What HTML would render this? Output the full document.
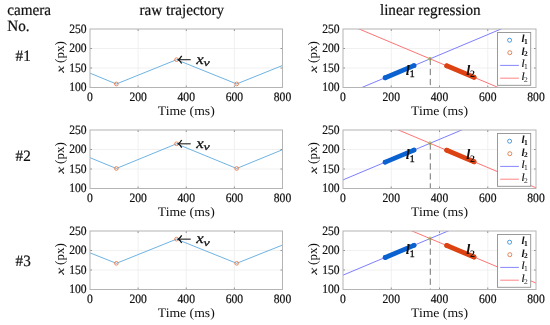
<!DOCTYPE html>
<html><head><meta charset="utf-8"><title>figure</title>
<style>
html,body{margin:0;padding:0;background:#fff;}
body{width:550px;height:325px;overflow:hidden;}
svg{display:block;}
text{font-family:'Liberation Serif', 'DejaVu Serif', serif;fill:#111;text-rendering:geometricPrecision;}
.tk{font-size:11.6px;stroke:#111;stroke-width:0.2px;}
.xl{font-size:13px;}
.big{font-size:15.2px;stroke:#111;stroke-width:0.2px;}
.yx{font-size:11.3px;font-style:italic;stroke:#111;stroke-width:0.1px;}
.mi{font-size:14.5px;font-style:italic;stroke:#111;stroke-width:0.3px;}
.ms{font-size:10.5px;font-style:italic;stroke:#111;stroke-width:0.25px;}
.lb{font-size:14.5px;font-style:italic;font-weight:bold;}
.sub{font-size:9.8px;stroke:#111;stroke-width:0.4px;}
.subb{font-size:9.8px;font-weight:bold;}
.lbs{font-size:11px;font-style:italic;font-weight:bold;}
.lis{font-size:11px;font-style:italic;stroke:#111;stroke-width:0.2px;}
.subs{font-size:7.5px;}
.subsb{font-size:7.5px;font-weight:bold;}
</style></head>
<body>
<svg width="550" height="325" viewBox="0 0 550 325">
<rect width="550" height="325" fill="#fff"/>
<line x1="138.12" y1="29.00" x2="138.12" y2="87.50" stroke="#ececec" stroke-width="0.8"/>
<line x1="186.25" y1="29.00" x2="186.25" y2="87.50" stroke="#ececec" stroke-width="0.8"/>
<line x1="234.38" y1="29.00" x2="234.38" y2="87.50" stroke="#ececec" stroke-width="0.8"/>
<line x1="90.00" y1="68.00" x2="282.50" y2="68.00" stroke="#ececec" stroke-width="0.8"/>
<line x1="90.00" y1="48.50" x2="282.50" y2="48.50" stroke="#ececec" stroke-width="0.8"/>
<polyline points="90.00,73.15 116.35,83.99 176.50,59.69 236.66,83.95 282.50,65.47" fill="none" stroke="#5eaae0" stroke-width="0.9"/>
<circle cx="116.35" cy="83.99" r="1.85" fill="none" stroke="#ee7a45" stroke-width="0.9"/>
<circle cx="176.50" cy="59.69" r="1.85" fill="none" stroke="#ee7a45" stroke-width="0.9"/>
<circle cx="236.66" cy="83.95" r="1.85" fill="none" stroke="#ee7a45" stroke-width="0.9"/>
<line x1="138.12" y1="87.50" x2="138.12" y2="85.50" stroke="#555" stroke-width="0.6"/>
<line x1="138.12" y1="29.00" x2="138.12" y2="31.00" stroke="#555" stroke-width="0.6"/>
<line x1="186.25" y1="87.50" x2="186.25" y2="85.50" stroke="#555" stroke-width="0.6"/>
<line x1="186.25" y1="29.00" x2="186.25" y2="31.00" stroke="#555" stroke-width="0.6"/>
<line x1="234.38" y1="87.50" x2="234.38" y2="85.50" stroke="#555" stroke-width="0.6"/>
<line x1="234.38" y1="29.00" x2="234.38" y2="31.00" stroke="#555" stroke-width="0.6"/>
<line x1="90.00" y1="68.00" x2="92.00" y2="68.00" stroke="#555" stroke-width="0.6"/>
<line x1="282.50" y1="68.00" x2="280.50" y2="68.00" stroke="#555" stroke-width="0.6"/>
<line x1="90.00" y1="48.50" x2="92.00" y2="48.50" stroke="#555" stroke-width="0.6"/>
<line x1="282.50" y1="48.50" x2="280.50" y2="48.50" stroke="#555" stroke-width="0.6"/>
<rect x="90.00" y="29.00" width="192.50" height="58.50" fill="none" stroke="#b4b4b4" stroke-width="1"/>
<text transform="translate(86.60,91.25) scale(1,1.1)" text-anchor="end" class="tk">100</text>
<text transform="translate(86.60,71.75) scale(1,1.1)" text-anchor="end" class="tk">150</text>
<text transform="translate(86.60,52.25) scale(1,1.1)" text-anchor="end" class="tk">200</text>
<text transform="translate(86.60,32.75) scale(1,1.1)" text-anchor="end" class="tk">250</text>
<text transform="translate(90.00,101.00) scale(1,1.1)" text-anchor="middle" class="tk">0</text>
<text transform="translate(138.12,101.00) scale(1,1.1)" text-anchor="middle" class="tk">200</text>
<text transform="translate(186.25,101.00) scale(1,1.1)" text-anchor="middle" class="tk">400</text>
<text transform="translate(234.38,101.00) scale(1,1.1)" text-anchor="middle" class="tk">600</text>
<text transform="translate(282.50,101.00) scale(1,1.1)" text-anchor="middle" class="tk">800</text>
<text x="186.25" y="115.10" text-anchor="middle" class="xl" textLength="57" lengthAdjust="spacingAndGlyphs">Time (ms)</text>
<text transform="translate(63.90,52.10) rotate(-90)" text-anchor="middle" class="xl">(px)</text>
<text transform="translate(63.90,69.40) rotate(-90) scale(1.38,1)" text-anchor="middle" class="yx">x</text>
<line x1="178.80" y1="59.69" x2="190.7" y2="59.69" stroke="#222" stroke-width="1.1"/>
<path d="M181.70,55.89 Q180.00,58.79 178.30,59.69 Q180.00,60.59 181.70,63.49" fill="none" stroke="#111" stroke-width="1.25"/>
<text transform="translate(196.2,63.59) scale(1.15,1)" class="mi">x</text>
<text transform="translate(203.6,66.09) scale(1.35,1)" class="ms">v</text>
<line x1="391.25" y1="29.00" x2="391.25" y2="87.50" stroke="#ececec" stroke-width="0.8"/>
<line x1="439.50" y1="29.00" x2="439.50" y2="87.50" stroke="#ececec" stroke-width="0.8"/>
<line x1="487.75" y1="29.00" x2="487.75" y2="87.50" stroke="#ececec" stroke-width="0.8"/>
<line x1="343.00" y1="68.00" x2="536.00" y2="68.00" stroke="#ececec" stroke-width="0.8"/>
<line x1="343.00" y1="48.50" x2="536.00" y2="48.50" stroke="#ececec" stroke-width="0.8"/>
<clipPath id="c0"><rect x="343.00" y="29.00" width="193.00" height="58.50"/></clipPath>
<g clip-path="url(#c0)">
<line x1="318.88" y1="105.58" x2="560.12" y2="4.18" stroke="#6e6eff" stroke-width="0.9"/>
<line x1="318.88" y1="12.09" x2="560.12" y2="113.49" stroke="#ff6464" stroke-width="0.9"/>
</g>
<line x1="430.29" y1="58.84" x2="430.29" y2="87.50" stroke="#505050" stroke-width="0.8" stroke-dasharray="6.3,3.7"/>
<circle cx="430.09" cy="58.84" r="1.5" fill="none" stroke="#9cc048" stroke-width="0.9"/>
<line x1="385.22" y1="77.70" x2="413.93" y2="65.63" stroke="#0a62d0" stroke-width="4.8" stroke-linecap="round"/>
<circle cx="385.22" cy="77.70" r="2.45" fill="#0a62d0"/>
<circle cx="413.93" cy="65.63" r="2.45" fill="#0a62d0"/>
<line x1="446.74" y1="65.83" x2="474.00" y2="77.29" stroke="#dd4312" stroke-width="4.8" stroke-linecap="round"/>
<circle cx="446.74" cy="65.83" r="2.45" fill="#dd4312"/>
<circle cx="474.00" cy="77.29" r="2.45" fill="#dd4312"/>
<text x="405.8" y="74.73" class="lb">l</text><text x="409.8" y="77.14" class="sub">1</text>
<text x="466.3" y="74.73" class="lb">l</text><text x="470.0" y="77.14" class="subb">2</text>
<line x1="391.25" y1="87.50" x2="391.25" y2="85.50" stroke="#555" stroke-width="0.6"/>
<line x1="391.25" y1="29.00" x2="391.25" y2="31.00" stroke="#555" stroke-width="0.6"/>
<line x1="439.50" y1="87.50" x2="439.50" y2="85.50" stroke="#555" stroke-width="0.6"/>
<line x1="439.50" y1="29.00" x2="439.50" y2="31.00" stroke="#555" stroke-width="0.6"/>
<line x1="487.75" y1="87.50" x2="487.75" y2="85.50" stroke="#555" stroke-width="0.6"/>
<line x1="487.75" y1="29.00" x2="487.75" y2="31.00" stroke="#555" stroke-width="0.6"/>
<line x1="343.00" y1="68.00" x2="345.00" y2="68.00" stroke="#555" stroke-width="0.6"/>
<line x1="536.00" y1="68.00" x2="534.00" y2="68.00" stroke="#555" stroke-width="0.6"/>
<line x1="343.00" y1="48.50" x2="345.00" y2="48.50" stroke="#555" stroke-width="0.6"/>
<line x1="536.00" y1="48.50" x2="534.00" y2="48.50" stroke="#555" stroke-width="0.6"/>
<rect x="343.00" y="29.00" width="193.00" height="58.50" fill="none" stroke="#b4b4b4" stroke-width="1"/>
<text transform="translate(339.60,91.25) scale(1,1.1)" text-anchor="end" class="tk">100</text>
<text transform="translate(339.60,71.75) scale(1,1.1)" text-anchor="end" class="tk">150</text>
<text transform="translate(339.60,52.25) scale(1,1.1)" text-anchor="end" class="tk">200</text>
<text transform="translate(339.60,32.75) scale(1,1.1)" text-anchor="end" class="tk">250</text>
<text transform="translate(343.00,101.00) scale(1,1.1)" text-anchor="middle" class="tk">0</text>
<text transform="translate(391.25,101.00) scale(1,1.1)" text-anchor="middle" class="tk">200</text>
<text transform="translate(439.50,101.00) scale(1,1.1)" text-anchor="middle" class="tk">400</text>
<text transform="translate(487.75,101.00) scale(1,1.1)" text-anchor="middle" class="tk">600</text>
<text transform="translate(536.00,101.00) scale(1,1.1)" text-anchor="middle" class="tk">800</text>
<text x="439.50" y="115.10" text-anchor="middle" class="xl" textLength="57" lengthAdjust="spacingAndGlyphs">Time (ms)</text>
<text transform="translate(316.90,52.10) rotate(-90)" text-anchor="middle" class="xl">(px)</text>
<text transform="translate(316.90,69.40) rotate(-90) scale(1.38,1)" text-anchor="middle" class="yx">x</text>
<rect x="497.55" y="32.50" width="33.15" height="52.80" fill="#fff" stroke="#909090" stroke-width="0.9"/>
<circle cx="509.6" cy="40.20" r="2.0" fill="none" stroke="#3b8fd6" stroke-width="0.9"/>
<circle cx="509.8" cy="52.70" r="2.0" fill="none" stroke="#e0784a" stroke-width="0.9"/>
<line x1="500.2" y1="65.40" x2="518.9" y2="65.40" stroke="#7878ff" stroke-width="0.9"/>
<line x1="500.2" y1="78.20" x2="518.9" y2="78.20" stroke="#ff7878" stroke-width="0.9"/>
<text x="521.4" y="42.20" class="lbs">l</text><text x="523.9" y="43.90" class="subsb">1</text>
<text x="521.4" y="54.70" class="lbs">l</text><text x="523.9" y="56.40" class="subsb">2</text>
<text x="521.4" y="67.40" class="lis">l</text><text x="523.9" y="69.10" class="subs">1</text>
<text x="521.4" y="80.20" class="lis">l</text><text x="523.9" y="81.90" class="subs">2</text>
<line x1="138.12" y1="130.00" x2="138.12" y2="188.50" stroke="#ececec" stroke-width="0.8"/>
<line x1="186.25" y1="130.00" x2="186.25" y2="188.50" stroke="#ececec" stroke-width="0.8"/>
<line x1="234.38" y1="130.00" x2="234.38" y2="188.50" stroke="#ececec" stroke-width="0.8"/>
<line x1="90.00" y1="169.00" x2="282.50" y2="169.00" stroke="#ececec" stroke-width="0.8"/>
<line x1="90.00" y1="149.50" x2="282.50" y2="149.50" stroke="#ececec" stroke-width="0.8"/>
<polyline points="90.00,157.69 116.35,168.49 176.50,143.81 236.66,168.49 282.50,149.69" fill="none" stroke="#5eaae0" stroke-width="0.9"/>
<circle cx="116.35" cy="168.49" r="1.85" fill="none" stroke="#ee7a45" stroke-width="0.9"/>
<circle cx="176.50" cy="143.81" r="1.85" fill="none" stroke="#ee7a45" stroke-width="0.9"/>
<circle cx="236.66" cy="168.49" r="1.85" fill="none" stroke="#ee7a45" stroke-width="0.9"/>
<line x1="138.12" y1="188.50" x2="138.12" y2="186.50" stroke="#555" stroke-width="0.6"/>
<line x1="138.12" y1="130.00" x2="138.12" y2="132.00" stroke="#555" stroke-width="0.6"/>
<line x1="186.25" y1="188.50" x2="186.25" y2="186.50" stroke="#555" stroke-width="0.6"/>
<line x1="186.25" y1="130.00" x2="186.25" y2="132.00" stroke="#555" stroke-width="0.6"/>
<line x1="234.38" y1="188.50" x2="234.38" y2="186.50" stroke="#555" stroke-width="0.6"/>
<line x1="234.38" y1="130.00" x2="234.38" y2="132.00" stroke="#555" stroke-width="0.6"/>
<line x1="90.00" y1="169.00" x2="92.00" y2="169.00" stroke="#555" stroke-width="0.6"/>
<line x1="282.50" y1="169.00" x2="280.50" y2="169.00" stroke="#555" stroke-width="0.6"/>
<line x1="90.00" y1="149.50" x2="92.00" y2="149.50" stroke="#555" stroke-width="0.6"/>
<line x1="282.50" y1="149.50" x2="280.50" y2="149.50" stroke="#555" stroke-width="0.6"/>
<rect x="90.00" y="130.00" width="192.50" height="58.50" fill="none" stroke="#b4b4b4" stroke-width="1"/>
<text transform="translate(86.60,192.25) scale(1,1.1)" text-anchor="end" class="tk">100</text>
<text transform="translate(86.60,172.75) scale(1,1.1)" text-anchor="end" class="tk">150</text>
<text transform="translate(86.60,153.25) scale(1,1.1)" text-anchor="end" class="tk">200</text>
<text transform="translate(86.60,133.75) scale(1,1.1)" text-anchor="end" class="tk">250</text>
<text transform="translate(90.00,202.00) scale(1,1.1)" text-anchor="middle" class="tk">0</text>
<text transform="translate(138.12,202.00) scale(1,1.1)" text-anchor="middle" class="tk">200</text>
<text transform="translate(186.25,202.00) scale(1,1.1)" text-anchor="middle" class="tk">400</text>
<text transform="translate(234.38,202.00) scale(1,1.1)" text-anchor="middle" class="tk">600</text>
<text transform="translate(282.50,202.00) scale(1,1.1)" text-anchor="middle" class="tk">800</text>
<text x="186.25" y="216.10" text-anchor="middle" class="xl" textLength="57" lengthAdjust="spacingAndGlyphs">Time (ms)</text>
<text transform="translate(63.90,153.10) rotate(-90)" text-anchor="middle" class="xl">(px)</text>
<text transform="translate(63.90,170.40) rotate(-90) scale(1.38,1)" text-anchor="middle" class="yx">x</text>
<line x1="178.80" y1="143.81" x2="190.7" y2="143.81" stroke="#222" stroke-width="1.1"/>
<path d="M181.70,140.01 Q180.00,142.91 178.30,143.81 Q180.00,144.71 181.70,147.61" fill="none" stroke="#111" stroke-width="1.25"/>
<text transform="translate(196.2,147.71) scale(1.15,1)" class="mi">x</text>
<text transform="translate(203.6,150.21) scale(1.35,1)" class="ms">v</text>
<line x1="391.25" y1="130.00" x2="391.25" y2="188.50" stroke="#ececec" stroke-width="0.8"/>
<line x1="439.50" y1="130.00" x2="439.50" y2="188.50" stroke="#ececec" stroke-width="0.8"/>
<line x1="487.75" y1="130.00" x2="487.75" y2="188.50" stroke="#ececec" stroke-width="0.8"/>
<line x1="343.00" y1="169.00" x2="536.00" y2="169.00" stroke="#ececec" stroke-width="0.8"/>
<line x1="343.00" y1="149.50" x2="536.00" y2="149.50" stroke="#ececec" stroke-width="0.8"/>
<clipPath id="c1"><rect x="343.00" y="130.00" width="193.00" height="58.50"/></clipPath>
<g clip-path="url(#c1)">
<line x1="318.88" y1="190.04" x2="560.12" y2="88.64" stroke="#6e6eff" stroke-width="0.9"/>
<line x1="318.88" y1="96.55" x2="560.12" y2="197.95" stroke="#ff6464" stroke-width="0.9"/>
</g>
<line x1="430.29" y1="143.30" x2="430.29" y2="188.50" stroke="#505050" stroke-width="0.8" stroke-dasharray="6.3,3.7"/>
<circle cx="430.09" cy="143.30" r="1.5" fill="none" stroke="#9cc048" stroke-width="0.9"/>
<line x1="385.22" y1="162.16" x2="413.93" y2="150.09" stroke="#0a62d0" stroke-width="4.8" stroke-linecap="round"/>
<circle cx="385.22" cy="162.16" r="2.45" fill="#0a62d0"/>
<circle cx="413.93" cy="150.09" r="2.45" fill="#0a62d0"/>
<line x1="446.74" y1="150.30" x2="474.00" y2="161.75" stroke="#dd4312" stroke-width="4.8" stroke-linecap="round"/>
<circle cx="446.74" cy="150.30" r="2.45" fill="#dd4312"/>
<circle cx="474.00" cy="161.75" r="2.45" fill="#dd4312"/>
<text x="405.8" y="159.20" class="lb">l</text><text x="409.8" y="161.60" class="sub">1</text>
<text x="466.3" y="159.20" class="lb">l</text><text x="470.0" y="161.60" class="subb">2</text>
<line x1="391.25" y1="188.50" x2="391.25" y2="186.50" stroke="#555" stroke-width="0.6"/>
<line x1="391.25" y1="130.00" x2="391.25" y2="132.00" stroke="#555" stroke-width="0.6"/>
<line x1="439.50" y1="188.50" x2="439.50" y2="186.50" stroke="#555" stroke-width="0.6"/>
<line x1="439.50" y1="130.00" x2="439.50" y2="132.00" stroke="#555" stroke-width="0.6"/>
<line x1="487.75" y1="188.50" x2="487.75" y2="186.50" stroke="#555" stroke-width="0.6"/>
<line x1="487.75" y1="130.00" x2="487.75" y2="132.00" stroke="#555" stroke-width="0.6"/>
<line x1="343.00" y1="169.00" x2="345.00" y2="169.00" stroke="#555" stroke-width="0.6"/>
<line x1="536.00" y1="169.00" x2="534.00" y2="169.00" stroke="#555" stroke-width="0.6"/>
<line x1="343.00" y1="149.50" x2="345.00" y2="149.50" stroke="#555" stroke-width="0.6"/>
<line x1="536.00" y1="149.50" x2="534.00" y2="149.50" stroke="#555" stroke-width="0.6"/>
<rect x="343.00" y="130.00" width="193.00" height="58.50" fill="none" stroke="#b4b4b4" stroke-width="1"/>
<text transform="translate(339.60,192.25) scale(1,1.1)" text-anchor="end" class="tk">100</text>
<text transform="translate(339.60,172.75) scale(1,1.1)" text-anchor="end" class="tk">150</text>
<text transform="translate(339.60,153.25) scale(1,1.1)" text-anchor="end" class="tk">200</text>
<text transform="translate(339.60,133.75) scale(1,1.1)" text-anchor="end" class="tk">250</text>
<text transform="translate(343.00,202.00) scale(1,1.1)" text-anchor="middle" class="tk">0</text>
<text transform="translate(391.25,202.00) scale(1,1.1)" text-anchor="middle" class="tk">200</text>
<text transform="translate(439.50,202.00) scale(1,1.1)" text-anchor="middle" class="tk">400</text>
<text transform="translate(487.75,202.00) scale(1,1.1)" text-anchor="middle" class="tk">600</text>
<text transform="translate(536.00,202.00) scale(1,1.1)" text-anchor="middle" class="tk">800</text>
<text x="439.50" y="216.10" text-anchor="middle" class="xl" textLength="57" lengthAdjust="spacingAndGlyphs">Time (ms)</text>
<text transform="translate(316.90,153.10) rotate(-90)" text-anchor="middle" class="xl">(px)</text>
<text transform="translate(316.90,170.40) rotate(-90) scale(1.38,1)" text-anchor="middle" class="yx">x</text>
<rect x="497.55" y="133.50" width="33.15" height="52.80" fill="#fff" stroke="#909090" stroke-width="0.9"/>
<circle cx="509.6" cy="141.20" r="2.0" fill="none" stroke="#3b8fd6" stroke-width="0.9"/>
<circle cx="509.8" cy="153.70" r="2.0" fill="none" stroke="#e0784a" stroke-width="0.9"/>
<line x1="500.2" y1="166.40" x2="518.9" y2="166.40" stroke="#7878ff" stroke-width="0.9"/>
<line x1="500.2" y1="179.20" x2="518.9" y2="179.20" stroke="#ff7878" stroke-width="0.9"/>
<text x="521.4" y="143.20" class="lbs">l</text><text x="523.9" y="144.90" class="subsb">1</text>
<text x="521.4" y="155.70" class="lbs">l</text><text x="523.9" y="157.40" class="subsb">2</text>
<text x="521.4" y="168.40" class="lis">l</text><text x="523.9" y="170.10" class="subs">1</text>
<text x="521.4" y="181.20" class="lis">l</text><text x="523.9" y="182.90" class="subs">2</text>
<line x1="138.12" y1="231.00" x2="138.12" y2="289.50" stroke="#ececec" stroke-width="0.8"/>
<line x1="186.25" y1="231.00" x2="186.25" y2="289.50" stroke="#ececec" stroke-width="0.8"/>
<line x1="234.38" y1="231.00" x2="234.38" y2="289.50" stroke="#ececec" stroke-width="0.8"/>
<line x1="90.00" y1="270.00" x2="282.50" y2="270.00" stroke="#ececec" stroke-width="0.8"/>
<line x1="90.00" y1="250.50" x2="282.50" y2="250.50" stroke="#ececec" stroke-width="0.8"/>
<polyline points="90.00,252.88 116.35,263.33 176.50,239.15 236.66,263.33 282.50,245.04" fill="none" stroke="#5eaae0" stroke-width="0.9"/>
<circle cx="116.35" cy="263.33" r="1.85" fill="none" stroke="#ee7a45" stroke-width="0.9"/>
<circle cx="176.50" cy="239.15" r="1.85" fill="none" stroke="#ee7a45" stroke-width="0.9"/>
<circle cx="236.66" cy="263.33" r="1.85" fill="none" stroke="#ee7a45" stroke-width="0.9"/>
<line x1="138.12" y1="289.50" x2="138.12" y2="287.50" stroke="#555" stroke-width="0.6"/>
<line x1="138.12" y1="231.00" x2="138.12" y2="233.00" stroke="#555" stroke-width="0.6"/>
<line x1="186.25" y1="289.50" x2="186.25" y2="287.50" stroke="#555" stroke-width="0.6"/>
<line x1="186.25" y1="231.00" x2="186.25" y2="233.00" stroke="#555" stroke-width="0.6"/>
<line x1="234.38" y1="289.50" x2="234.38" y2="287.50" stroke="#555" stroke-width="0.6"/>
<line x1="234.38" y1="231.00" x2="234.38" y2="233.00" stroke="#555" stroke-width="0.6"/>
<line x1="90.00" y1="270.00" x2="92.00" y2="270.00" stroke="#555" stroke-width="0.6"/>
<line x1="282.50" y1="270.00" x2="280.50" y2="270.00" stroke="#555" stroke-width="0.6"/>
<line x1="90.00" y1="250.50" x2="92.00" y2="250.50" stroke="#555" stroke-width="0.6"/>
<line x1="282.50" y1="250.50" x2="280.50" y2="250.50" stroke="#555" stroke-width="0.6"/>
<rect x="90.00" y="231.00" width="192.50" height="58.50" fill="none" stroke="#b4b4b4" stroke-width="1"/>
<text transform="translate(86.60,293.25) scale(1,1.1)" text-anchor="end" class="tk">100</text>
<text transform="translate(86.60,273.75) scale(1,1.1)" text-anchor="end" class="tk">150</text>
<text transform="translate(86.60,254.25) scale(1,1.1)" text-anchor="end" class="tk">200</text>
<text transform="translate(86.60,234.75) scale(1,1.1)" text-anchor="end" class="tk">250</text>
<text transform="translate(90.00,303.00) scale(1,1.1)" text-anchor="middle" class="tk">0</text>
<text transform="translate(138.12,303.00) scale(1,1.1)" text-anchor="middle" class="tk">200</text>
<text transform="translate(186.25,303.00) scale(1,1.1)" text-anchor="middle" class="tk">400</text>
<text transform="translate(234.38,303.00) scale(1,1.1)" text-anchor="middle" class="tk">600</text>
<text transform="translate(282.50,303.00) scale(1,1.1)" text-anchor="middle" class="tk">800</text>
<text x="186.25" y="317.10" text-anchor="middle" class="xl" textLength="57" lengthAdjust="spacingAndGlyphs">Time (ms)</text>
<text transform="translate(63.90,254.10) rotate(-90)" text-anchor="middle" class="xl">(px)</text>
<text transform="translate(63.90,271.40) rotate(-90) scale(1.38,1)" text-anchor="middle" class="yx">x</text>
<line x1="178.80" y1="239.15" x2="190.7" y2="239.15" stroke="#222" stroke-width="1.1"/>
<path d="M181.70,235.35 Q180.00,238.25 178.30,239.15 Q180.00,240.05 181.70,242.95" fill="none" stroke="#111" stroke-width="1.25"/>
<text transform="translate(196.2,243.05) scale(1.15,1)" class="mi">x</text>
<text transform="translate(203.6,245.55) scale(1.35,1)" class="ms">v</text>
<line x1="391.25" y1="231.00" x2="391.25" y2="289.50" stroke="#ececec" stroke-width="0.8"/>
<line x1="439.50" y1="231.00" x2="439.50" y2="289.50" stroke="#ececec" stroke-width="0.8"/>
<line x1="487.75" y1="231.00" x2="487.75" y2="289.50" stroke="#ececec" stroke-width="0.8"/>
<line x1="343.00" y1="270.00" x2="536.00" y2="270.00" stroke="#ececec" stroke-width="0.8"/>
<line x1="343.00" y1="250.50" x2="536.00" y2="250.50" stroke="#ececec" stroke-width="0.8"/>
<clipPath id="c2"><rect x="343.00" y="231.00" width="193.00" height="58.50"/></clipPath>
<g clip-path="url(#c2)">
<line x1="318.88" y1="285.31" x2="560.12" y2="183.91" stroke="#6e6eff" stroke-width="0.9"/>
<line x1="318.88" y1="191.82" x2="560.12" y2="293.22" stroke="#ff6464" stroke-width="0.9"/>
</g>
<line x1="430.29" y1="238.57" x2="430.29" y2="289.50" stroke="#505050" stroke-width="0.8" stroke-dasharray="6.3,3.7"/>
<circle cx="430.09" cy="238.57" r="1.5" fill="none" stroke="#9cc048" stroke-width="0.9"/>
<line x1="385.22" y1="257.43" x2="413.93" y2="245.36" stroke="#0a62d0" stroke-width="4.8" stroke-linecap="round"/>
<circle cx="385.22" cy="257.43" r="2.45" fill="#0a62d0"/>
<circle cx="413.93" cy="245.36" r="2.45" fill="#0a62d0"/>
<line x1="446.74" y1="245.56" x2="474.00" y2="257.02" stroke="#dd4312" stroke-width="4.8" stroke-linecap="round"/>
<circle cx="446.74" cy="245.56" r="2.45" fill="#dd4312"/>
<circle cx="474.00" cy="257.02" r="2.45" fill="#dd4312"/>
<text x="405.8" y="254.47" class="lb">l</text><text x="409.8" y="256.87" class="sub">1</text>
<text x="466.3" y="254.47" class="lb">l</text><text x="470.0" y="256.87" class="subb">2</text>
<line x1="391.25" y1="289.50" x2="391.25" y2="287.50" stroke="#555" stroke-width="0.6"/>
<line x1="391.25" y1="231.00" x2="391.25" y2="233.00" stroke="#555" stroke-width="0.6"/>
<line x1="439.50" y1="289.50" x2="439.50" y2="287.50" stroke="#555" stroke-width="0.6"/>
<line x1="439.50" y1="231.00" x2="439.50" y2="233.00" stroke="#555" stroke-width="0.6"/>
<line x1="487.75" y1="289.50" x2="487.75" y2="287.50" stroke="#555" stroke-width="0.6"/>
<line x1="487.75" y1="231.00" x2="487.75" y2="233.00" stroke="#555" stroke-width="0.6"/>
<line x1="343.00" y1="270.00" x2="345.00" y2="270.00" stroke="#555" stroke-width="0.6"/>
<line x1="536.00" y1="270.00" x2="534.00" y2="270.00" stroke="#555" stroke-width="0.6"/>
<line x1="343.00" y1="250.50" x2="345.00" y2="250.50" stroke="#555" stroke-width="0.6"/>
<line x1="536.00" y1="250.50" x2="534.00" y2="250.50" stroke="#555" stroke-width="0.6"/>
<rect x="343.00" y="231.00" width="193.00" height="58.50" fill="none" stroke="#b4b4b4" stroke-width="1"/>
<text transform="translate(339.60,293.25) scale(1,1.1)" text-anchor="end" class="tk">100</text>
<text transform="translate(339.60,273.75) scale(1,1.1)" text-anchor="end" class="tk">150</text>
<text transform="translate(339.60,254.25) scale(1,1.1)" text-anchor="end" class="tk">200</text>
<text transform="translate(339.60,234.75) scale(1,1.1)" text-anchor="end" class="tk">250</text>
<text transform="translate(343.00,303.00) scale(1,1.1)" text-anchor="middle" class="tk">0</text>
<text transform="translate(391.25,303.00) scale(1,1.1)" text-anchor="middle" class="tk">200</text>
<text transform="translate(439.50,303.00) scale(1,1.1)" text-anchor="middle" class="tk">400</text>
<text transform="translate(487.75,303.00) scale(1,1.1)" text-anchor="middle" class="tk">600</text>
<text transform="translate(536.00,303.00) scale(1,1.1)" text-anchor="middle" class="tk">800</text>
<text x="439.50" y="317.10" text-anchor="middle" class="xl" textLength="57" lengthAdjust="spacingAndGlyphs">Time (ms)</text>
<text transform="translate(316.90,254.10) rotate(-90)" text-anchor="middle" class="xl">(px)</text>
<text transform="translate(316.90,271.40) rotate(-90) scale(1.38,1)" text-anchor="middle" class="yx">x</text>
<rect x="497.55" y="234.50" width="33.15" height="52.80" fill="#fff" stroke="#909090" stroke-width="0.9"/>
<circle cx="509.6" cy="242.20" r="2.0" fill="none" stroke="#3b8fd6" stroke-width="0.9"/>
<circle cx="509.8" cy="254.70" r="2.0" fill="none" stroke="#e0784a" stroke-width="0.9"/>
<line x1="500.2" y1="267.40" x2="518.9" y2="267.40" stroke="#7878ff" stroke-width="0.9"/>
<line x1="500.2" y1="280.20" x2="518.9" y2="280.20" stroke="#ff7878" stroke-width="0.9"/>
<text x="521.4" y="244.20" class="lbs">l</text><text x="523.9" y="245.90" class="subsb">1</text>
<text x="521.4" y="256.70" class="lbs">l</text><text x="523.9" y="258.40" class="subsb">2</text>
<text x="521.4" y="269.40" class="lis">l</text><text x="523.9" y="271.10" class="subs">1</text>
<text x="521.4" y="282.20" class="lis">l</text><text x="523.9" y="283.90" class="subs">2</text>
<text transform="translate(7.2,15.3) scale(1,1.04)" class="big">camera</text>
<text transform="translate(7.2,30.6) scale(1,1.04)" class="big">No.</text>
<text transform="translate(15.6,60.8) scale(1,1.04)" class="big">#1</text>
<text transform="translate(15.6,160.8) scale(1,1.04)" class="big">#2</text>
<text transform="translate(15.6,266.4) scale(1,1.04)" class="big">#3</text>
<text transform="translate(181.75,14.8) scale(1,1.04)" text-anchor="middle" class="big">raw trajectory</text>
<text transform="translate(430.3,14.8) scale(1,1.04)" text-anchor="middle" class="big">linear regression</text>
</svg>
</body></html>
